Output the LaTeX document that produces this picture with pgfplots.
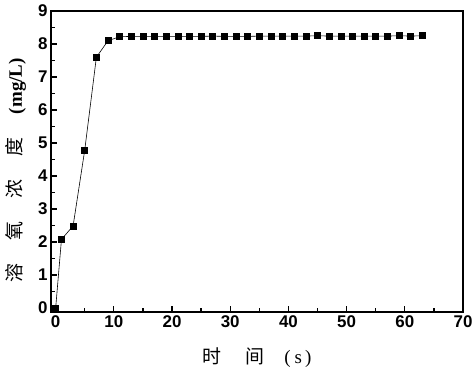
\documentclass[border=0pt]{standalone}
\usepackage{pgfplots}
\pgfplotsset{compat=1.18}
\usepackage{fontspec}
\setmainfont{Liberation Sans}
\newfontfamily\cjk{Noto Sans CJK SC}
\newfontfamily\serif{Liberation Serif}
\begin{document}
\begin{tikzpicture}[x=1bp,y=1bp]
\path[use as bounding box] (0,0) rectangle (474,368);
\begin{axis}[
  at={(51bp,56bp)}, anchor=south west,
  width=412bp, height=301bp, scale only axis,
  xmin=-0.8, xmax=70, ymin=-0.12, ymax=9,
  axis line style={line width=1.6pt},
  xtick={0,10,...,70}, ytick={0,1,...,9},
  minor x tick num=1, minor y tick num=1,
  tick align=inside,
  xtick pos=bottom, ytick pos=left,
  major tick length=6bp, minor tick length=4bp,
  every tick/.style={line width=1.3pt, black},
  tick label style={font=\fontsize{17}{18}\selectfont\bfseries},
  /pgf/number format/assume math mode=true,
  xlabel={\cjk 时\hspace{24bp}间\hspace{20bp}\serif(\hspace{4bp}s\hspace{3bp})},
  xlabel style={font=\fontsize{19}{20}\selectfont, at={(axis description cs:0.5,-0.15)}, anchor=center},
  ylabel={\cjk 溶\hspace{23bp}氧\hspace{23bp}浓\hspace{23bp}度\hspace{24bp}\serif\bfseries (mg/L)},
  ylabel style={font=\fontsize{19}{20}\selectfont, at={(axis description cs:-0.085,0.47)}, anchor=center},
  clip=false,
]
\addplot[black, line width=0.6pt, mark=square*, mark size=3bp, mark options={solid}] coordinates {
(0,0) (1,2.08) (3,2.49) (5,4.79) (7,7.6) (9,8.1)
(11,8.22) (13,8.23) (15,8.23) (17,8.23) (19,8.23) (21,8.23) (23,8.23) (25,8.23) (27,8.24)
(29,8.23) (31,8.23) (33,8.23) (35,8.24) (37,8.24) (39,8.24) (41,8.24) (43,8.24) (45,8.25)
(47,8.24) (49,8.24) (51,8.24) (53,8.24) (55,8.24) (57,8.24) (59,8.25) (61,8.24) (63,8.25)
};
\end{axis}
\end{tikzpicture}
\end{document}
